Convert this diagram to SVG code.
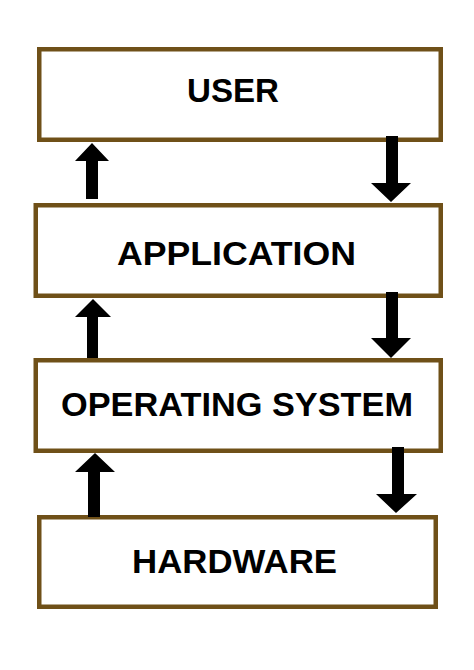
<svg xmlns="http://www.w3.org/2000/svg" width="474" height="670" viewBox="0 0 474 670">
<style>
.box{fill:#ffffff;stroke:#6f5018;stroke-width:4.5}
.lbl{font-family:"Liberation Sans",Arial,sans-serif;font-weight:bold;font-size:34px;fill:#000000;text-anchor:middle}
.arr{fill:#000000}
</style>
<rect width="474" height="670" fill="#ffffff"/>
<g id="node-user">
<rect class="box" x="39.25" y="49.25" width="401.5" height="90.5"/>
<text class="lbl" x="233" y="102" textLength="92" lengthAdjust="spacingAndGlyphs">USER</text>
</g>
<g id="node-application">
<rect class="box" x="35.75" y="205.25" width="405" height="90.5"/>
<text class="lbl" x="236.5" y="265" textLength="239" lengthAdjust="spacingAndGlyphs">APPLICATION</text>
</g>
<g id="node-os">
<rect class="box" x="35.75" y="360.25" width="405" height="90.5"/>
<text class="lbl" x="237" y="416" textLength="352" lengthAdjust="spacingAndGlyphs">OPERATING SYSTEM</text>
</g>
<g id="node-hardware">
<rect class="box" x="39.25" y="517.25" width="396.5" height="89.5"/>
<text class="lbl" x="234.5" y="573" textLength="205" lengthAdjust="spacingAndGlyphs">HARDWARE</text>
</g>
<g id="connectors">
<polygon class="arr" points="92,143 109,161 98,161 98,199 86,199 86,161 75,161"/>
<polygon class="arr" points="386,136 398,136 398,183 411,183 391,202 371,183 386,183"/>
<polygon class="arr" points="93,299 111,317 98,317 98,358 87,358 87,317 75,317"/>
<polygon class="arr" points="386,292 398,292 398,338 411,338 391,358 371,338 386,338"/>
<polygon class="arr" points="95,453 115,472 100,472 100,517 88,517 88,472 75,472"/>
<polygon class="arr" points="392,447 404,447 404,494 417,494 396,513 376,494 392,494"/>
</g>
</svg>
